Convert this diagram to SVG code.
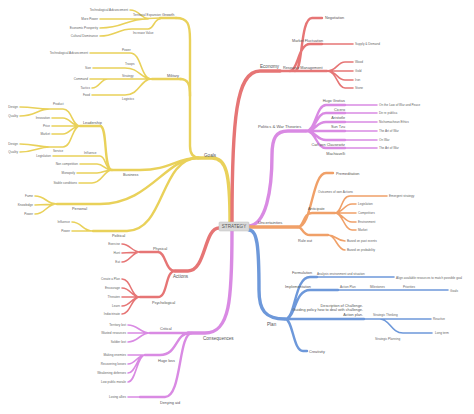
<svg xmlns="http://www.w3.org/2000/svg" width="474" height="414" viewBox="0 0 474 414">
<style>
path{fill:none;stroke-linecap:round;stroke-linejoin:round}
.y{stroke:#e9d15a}.r{stroke:#e67575}.p{stroke:#d98ae3}.o{stroke:#f0a068}.b{stroke:#6d98da}
.w1{stroke-width:3.4}.w2{stroke-width:2.4}.w3{stroke-width:1.6}
text{font-family:"Liberation Sans",Arial,sans-serif;fill:#555}
.m{font-size:4.6px}.s{font-size:3.8px}.l{font-size:3.1px;fill:#666}
.e{text-anchor:end}
</style>
<rect width="474" height="414" fill="#fff"/>
<g id="connectors">
<path class="y w1" d="M230 222C230 172 226 158 212 158L198 158"/>
<path class="y w2" d="M176 18C188 18 190 24 190 40L190 146C190 154 193 158 200 158"/>
<path class="y w2" d="M160 18L176 18"/>
<path class="y w3" d="M148 18.5L160 18"/>
<path class="y w3" d="M130 10C140 10 140 18 148 18.5M100 19L148 19M100 28C125 28 125 19 148 19M100 36C115 36 118 29 132 29M132 29L148 29C154 29 154 19 160 19"/>
<path class="y w2" d="M180 79C188 79 190 84 190 96"/>
<path class="y w2" d="M152 79L181 79"/>
<path class="y w3" d="M122 53L130 53C142 53 140 79 152 79M90 53L122 53M93 68L125 68C140 68 140 79 152 79M90 79L152 79M92 88C100 88 100 79 108 79M92 95L125 95C140 95 140 79 152 79"/>
<path class="y w2" d="M140 170C170 170 176 158 198 158M110 170L141 170"/>
<path class="y w2" d="M100 126C108 126 103 170 112 170M80 126L101 126"/>
<path class="y w3" d="M63 109C72 109 72 126 80 126M50 109L63 109M20 107C35 107 35 109 50 109M20 116C35 116 38 109 50 109M52 118L63 118C70 118 72 126 80 126M52 126L80 126M52 134L63 134C70 134 72 126 80 126M63 147C72 147 72 126 80 126M50 147L63 147M20 144C35 144 38 147 50 147M20 152C35 152 38 147 50 147"/>
<path class="y w3" d="M83 156L100 156C106 156 105 170 112 170M53 156L83 156M80 164L97 164C104 164 104 170 112 170M77 173L97 173C104 173 104 170 112 170M79 183L92 183C102 183 104 170 112 170"/>
<path class="y w2" d="M100 204C150 204 165 158 198 158M57 204L100 204"/>
<path class="y w3" d="M35 196C46 196 46 204 57 204M35 205L57 204M35 214C46 214 46 204 57 204"/>
<path class="y w2" d="M127 231C165 231 160 158 198 158M93 231L127 231"/>
<path class="y w3" d="M72 222C82 222 82 231 93 231M72 231L93 231"/>
<path class="r w1" d="M232 222C232 120 236 71 260 71L280 71"/>
<path class="r w2" d="M280 71L327 71"/>
<path class="r w3" d="M327 71C337 71 337 62 345 62L353 62M327 71L353 71M327 71C337 71 337 80 345 80L353 80M327 71C337 71 337 88 345 88L353 88"/>
<path class="r w2" d="M290 71C298 71 298 44 310 44L322 44M295 71C303 71 300 18 312 18L322 18"/>
<path class="r w3" d="M322 44L353 44"/>
<path class="r w1" d="M219 228C204 228 206 271 188 271L175 271"/>
<path class="r w2" d="M175 271C165 271 166 252 158 252L140 252M175 271C165 271 168 297 158 297L140 297"/>
<path class="r w3" d="M140 252C132 252 130 244 122 244M140 252L122 253M140 252C132 252 130 262 122 262"/>
<path class="r w3" d="M140 297C131 297 131 279 122 279M140 297C131 297 131 288 122 288M140 297L122 297M140 297C131 297 131 306 122 306M140 297C131 297 131 314 122 314"/>
<path class="p w1" d="M248 226C266 226 272 190 272 155C272 138 276 131 288 131L306 131"/>
<path class="p w2" d="M306 131C316 131 316 105 326 105L345 105M306 131C316 131 316 113 326 113L345 113M306 131C316 131 316 122 326 122L345 122M306 131L345 131M306 131C316 131 316 140 326 140L345 140M306 131C316 131 316 148 326 148L345 148"/>
<path class="p w3" d="M345 105L377 105M345 113L377 113M345 122L377 122M345 131L377 131M345 140L377 140M345 148L377 148"/>
<path class="p w1" d="M232 231C232 300 230 333 205 333L188 333"/>
<path class="p w2" d="M188 333L150 333M190 333C175 333 178 355 160 355L145 355M192 333C178 333 182 397 165 397L140 397"/>
<path class="p w3" d="M150 333C140 333 138 325 128 325M150 333L128 333M150 333C140 333 138 342 128 342"/>
<path class="p w3" d="M145 355L128 355M145 355C137 355 136 364 128 364M145 355C137 355 136 373 128 373M145 355C137 355 136 382 128 382M140 397L128 397"/>
<path class="o w1" d="M249 227L298 227"/>
<path class="o w2" d="M298 227C312 227 312 173 326 173L333 173M298 227C304 227 303 213 312 213L335 213M298 227C303 227 302 235 310 235L328 235"/>
<path class="o w3" d="M335 213C342 213 341 196 350 196L387 196M335 213C343 213 344 204 352 204L356 204M335 213L356 213M335 213C343 213 344 222 352 222L356 222M335 213C343 213 344 230 352 230L356 230"/>
<path class="o w3" d="M328 235C336 235 337 241 345 241M328 235C336 235 337 250 345 250"/>
<path class="b w1" d="M249 230C257 230 259 245 259 290C259 310 265 319 285 319"/>
<path class="b w2" d="M285 319C296 319 294 277 310 277L317 277M285 319C296 319 294 290 310 290L338 290M285 319L364 319M285 319C293 319 293 351 303 351L307 351"/>
<path class="b w3" d="M317 277L369 277L394 277M338 290L448 290M364 319L431 319M380 319C390 319 391 333 403 333L432 333"/>
</g>
<g id="strategy"><rect x="219" y="222" width="30" height="9" rx="1" fill="#d9d9d9" stroke="#bdbdbd" stroke-width="0.5"/><text x="234" y="228.3" class="m" text-anchor="middle" fill="#444">STRATEGY</text></g>
<g id="goals"><text x="204" y="156.5" class="m">Goals</text></g>
<g id="growth">
<text x="162" y="16" class="s">Growth</text>
<text x="133" y="16.3" class="l">Territorial Expansion</text>
<text x="133" y="33.5" class="l">Increase Value</text>
<text x="128" y="11" class="l e">Technological Advancement</text>
<text x="98" y="20" class="l e">More Power</text>
<text x="98" y="29" class="l e">Economic Prosperity</text>
<text x="98" y="37" class="l e">Cultural Dominance</text>
</g>
<g id="military">
<text x="167" y="76.5" class="s">Military</text>
<text x="122" y="51.3" class="l">Power</text>
<text x="125" y="65" class="l">Troops</text>
<text x="122" y="76.5" class="l">Strategy</text>
<text x="122" y="99.5" class="l">Logistics</text>
<text x="88" y="54.2" class="l e">Technological Advancement</text>
<text x="91" y="69" class="l e">Size</text>
<text x="88" y="80" class="l e">Command</text>
<text x="90" y="89" class="l e">Tactics</text>
<text x="90" y="96" class="l e">Food</text>
</g>
<g id="business">
<text x="123" y="175.5" class="s">Business</text>
<text x="83" y="123.5" class="s">Leadership</text>
<text x="53" y="104.5" class="l">Product</text>
<text x="53" y="151.5" class="l">Service</text>
<text x="18" y="108" class="l e">Design</text>
<text x="18" y="117" class="l e">Quality</text>
<text x="50" y="119" class="l e">Innovation</text>
<text x="50" y="127" class="l e">Price</text>
<text x="50" y="135" class="l e">Market</text>
<text x="18" y="145" class="l e">Design</text>
<text x="18" y="153" class="l e">Quality</text>
<text x="84" y="153.5" class="l">Influence</text>
<text x="51" y="157" class="l e">Legislation</text>
<text x="78" y="165" class="l e">Non competition</text>
<text x="75" y="174" class="l e">Monopoly</text>
<text x="77" y="184" class="l e">Stable conditions</text>
</g>
<g id="personal">
<text x="72" y="209.5" class="s">Personal</text>
<text x="33" y="197" class="l e">Fame</text>
<text x="33" y="206" class="l e">Knowledge</text>
<text x="33" y="215" class="l e">Power</text>
</g>
<g id="political">
<text x="112" y="236.5" class="s">Political</text>
<text x="70" y="223" class="l e">Influence</text>
<text x="70" y="232" class="l e">Power</text>
</g>
<g id="economy">
<text x="260" y="68" class="m">Economy</text>
<text x="283" y="68.5" class="s">Resource Management</text>
<text x="292" y="41.5" class="s">Market Fluctuation</text>
<text x="325" y="19" class="s">Negotiation</text>
<text x="355" y="45" class="l">Supply &amp; Demand</text>
<text x="355" y="63" class="l">Wood</text>
<text x="355" y="72" class="l">Gold</text>
<text x="355" y="81" class="l">Iron</text>
<text x="355" y="89" class="l">Stone</text>
</g>
<g id="actions">
<text x="173" y="277.5" class="m">Actions</text>
<text x="153" y="249.5" class="s">Physical</text>
<text x="152" y="303.5" class="s">Psychological</text>
<text x="120" y="245" class="l e">Exercise</text>
<text x="120" y="254" class="l e">Hunt</text>
<text x="120" y="263" class="l e">Eat</text>
<text x="120" y="280" class="l e">Create a Plan</text>
<text x="120" y="289" class="l e">Encourage</text>
<text x="120" y="298" class="l e">Threaten</text>
<text x="120" y="307" class="l e">Learn</text>
<text x="120" y="315" class="l e">Indoctrinate</text>
</g>
<g id="politics">
<text x="258" y="127.5" class="m" style="font-size:4.2px">Politics &amp; War Theories</text>
<text x="345" y="101.5" class="s e">Hugo Grotius</text>
<text x="345" y="110.5" class="s e">Cicero</text>
<text x="345" y="118.5" class="s e">Aristotle</text>
<text x="345" y="127.5" class="s e">Sun Tzu</text>
<text x="345" y="145.5" class="s e">Carl von Clausewitz</text>
<text x="345" y="154.5" class="s e">Machiavelli</text>
<text x="379" y="106" class="l">On the Law of War and Peace</text>
<text x="379" y="114" class="l">De re publica</text>
<text x="379" y="123" class="l">Nichomachean Ethics</text>
<text x="379" y="132" class="l">The Art of War</text>
<text x="379" y="141" class="l">On War</text>
<text x="379" y="149" class="l">The Art of War</text>
</g>
<g id="consequences">
<text x="203" y="339.5" class="m">Consequences</text>
<text x="160" y="329.5" class="s">Critical</text>
<text x="158" y="361.5" class="s">Huge loss</text>
<text x="160" y="403.5" class="s">Denying aid</text>
<text x="126" y="326" class="l e">Territory lost</text>
<text x="126" y="334" class="l e">Wasted resources</text>
<text x="126" y="343" class="l e">Soldier lost</text>
<text x="126" y="356" class="l e">Making enemies</text>
<text x="126" y="365" class="l e">Recovering losses</text>
<text x="126" y="374" class="l e">Weakening defenses</text>
<text x="126" y="383" class="l e">Low public morale</text>
<text x="126" y="398" class="l e">Losing allies</text>
</g>
<g id="uncertainties">
<text x="258" y="223.5" class="m" style="font-size:4.2px">Uncertainties</text>
<text x="336" y="174.5" class="s">Premeditation</text>
<text x="308" y="209.5" class="s">Anticipate</text>
<text x="318" y="192.5" class="l">Outcomes of own Actions</text>
<text x="389" y="197" class="l">Emergent strategy</text>
<text x="358" y="205" class="l">Legislation</text>
<text x="358" y="214" class="l">Competitors</text>
<text x="358" y="223" class="l">Environment</text>
<text x="358" y="231" class="l">Market</text>
<text x="298" y="241.5" class="s">Rule out</text>
<text x="347" y="242" class="l">Based on past events</text>
<text x="347" y="251" class="l">Based on probability</text>
</g>
<g id="plan">
<text x="267" y="325.5" class="m">Plan</text>
<text x="292" y="274" class="s">Formulation</text>
<text x="317" y="274.5" class="l">Analysis environment and situation</text>
<text x="396" y="278.5" class="l">Align available resources to match possible goal</text>
<text x="285" y="287.5" class="s">Implementation</text>
<text x="340" y="287.5" class="l">Action Plan</text>
<text x="370" y="287.5" class="l">Milestones</text>
<text x="403" y="287.5" class="l">Priorities</text>
<text x="450" y="291.5" class="l">Goals</text>
<text x="363" y="306.5" class="s e">Description of Challenge.</text>
<text x="363" y="311" class="s e">Guiding policy how to deal with challenge.</text>
<text x="363" y="315.5" class="s e">Action plan.</text>
<text x="373" y="316" class="l">Strategic Thinking</text>
<text x="433" y="320" class="l">Reactive</text>
<text x="375" y="339.5" class="l">Strategic Planning</text>
<text x="435" y="334" class="l">Long term</text>
<text x="309" y="352.5" class="s">Creativity</text>
</g>
</svg>
